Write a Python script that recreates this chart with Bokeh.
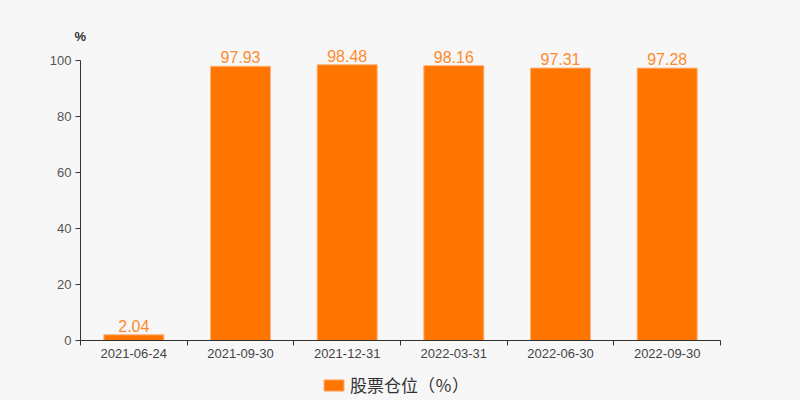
from bokeh.plotting import figure
from bokeh.layouts import column
from bokeh.models import (ColumnDataSource, FixedTicker, Legend, LegendItem, Range1d)
from bokeh.core.properties import value
from bokeh.embed import file_html
from bokeh.resources import INLINE

dates = ["2021-06-24", "2021-09-30", "2021-12-31", "2022-03-31", "2022-06-30", "2022-09-30"]
positions = [2.04, 97.93, 98.48, 98.16, 97.31, 97.28]
series_name = "股票仓位（％）"
unit_label = "%"
y_ticks = [0, 20, 40, 60, 80, 100]

xs = [i + 0.5 for i in range(len(dates))]
src = ColumnDataSource(dict(x=xs, y=positions, lab=[f"{v:.2f}" for v in positions]))

BG = "#f7f7f7"
BAR = "#ff7500"
BAR_LINE = "#ffb27a"

# frame spans y=44..340 px; the 0..100 axis occupies y=60..340
p = figure(width=800, height=365, output_backend="svg", toolbar_location=None,
           x_range=Range1d(0, len(dates)), y_range=Range1d(0, 100 * 296 / 280),
           background_fill_color=BG, border_fill_color=BG,
           min_border_left=80, min_border_right=80, min_border_top=44, min_border_bottom=25)
p.outline_line_color = None
p.grid.visible = False

p.title.text = unit_label
p.title.align = "left"
p.title.offset = -6
p.title.standoff = 1
p.title.text_font = "Liberation Sans"
p.title.text_font_size = "13px"
p.title.text_font_style = "bold"
p.title.text_color = "#333333"

r = p.vbar(x="x", top="y", width=0.5625, source=src, fill_color=BAR,
           line_color=BAR_LINE, line_width=1)
p.text(x="x", y="y", text="lab", source=src, text_align="center", text_baseline="bottom",
       y_offset=-3, text_color="#ff8a2e", text_font=value("Liberation Sans"),
       text_font_size="16px")

# x axis
xa = p.xaxis[0]
xa.ticker = FixedTicker(ticks=xs, minor_ticks=list(range(len(dates) + 1)))
xa.major_label_overrides = {x: d for x, d in zip(xs, dates)}
xa.major_tick_out = 0
xa.major_tick_in = 0
xa.minor_tick_out = 5
xa.minor_tick_in = 0
xa.axis_line_color = "#333333"
xa.minor_tick_line_color = "#333333"
xa.major_label_text_font = "Liberation Sans"
xa.major_label_text_font_size = "13px"
xa.major_label_text_color = "#444444"
xa.major_label_standoff = 3

ya = p.yaxis[0]
ya.ticker = FixedTicker(ticks=y_ticks)
ya.bounds = (0, 100)
ya.major_tick_out = 5
ya.major_tick_in = 0
ya.minor_tick_line_color = None
ya.axis_line_color = "#333333"
ya.major_tick_line_color = "#333333"
ya.major_label_text_font = "Liberation Sans"
ya.major_label_text_font_size = "13px"
ya.major_label_text_color = "#555555"
ya.major_label_standoff = 4

# legend strip
lg = figure(width=800, height=35, output_backend="svg", toolbar_location=None,
            x_range=Range1d(0, 1), y_range=Range1d(0, 1),
            background_fill_color=BG, border_fill_color=BG,
            min_border_left=0, min_border_right=0, min_border_top=0, min_border_bottom=0)
lg.axis.visible = False
lg.grid.visible = False
lg.outline_line_color = None
# legend-only renderer: one undefined (NaN) bar, so nothing is drawn in the strip
nan = float("nan")
lr = lg.vbar(x=[nan], bottom=[nan], top=[nan], width=0.1, fill_color=BAR,
             line_color=BAR_LINE, line_width=1)
legend = Legend(items=[LegendItem(label=series_name, renderers=[lr])],
                location=(241, 3), orientation="horizontal",
                background_fill_alpha=0, border_line_color=None,
                label_text_font="Noto Sans CJK SC", label_text_font_size="17px",
                label_text_color="#333333", glyph_width=25, glyph_height=14,
                label_standoff=4, padding=0, margin=0)
lg.add_layout(legend)

layout = column(p, lg, spacing=0)
layout.styles = {"background-color": BG}
open("out.html", "w").write(file_html(layout, INLINE))
